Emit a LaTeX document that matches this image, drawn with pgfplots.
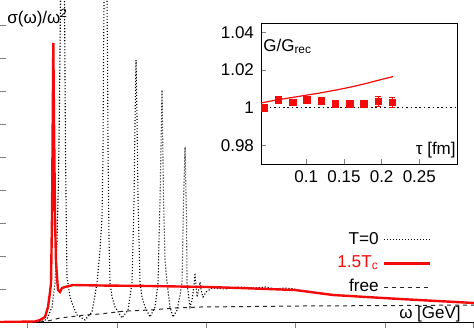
\documentclass[border=0pt]{standalone}
\usepackage{pgfplots}
\pgfplotsset{compat=1.18}
\usepackage{fontspec}
\setmainfont{Liberation Sans}
\definecolor{myred}{RGB}{245,10,10}
\begin{document}
\begin{tikzpicture}
\pgfplotsset{every axis/.append style={font=\fontsize{8.5}{10}\selectfont}}
\begin{axis}[
  scale only axis, width=237pt, height=161pt,
  xmin=0, xmax=474, ymin=0, ymax=322,
  axis x line*=bottom, axis y line*=left,
  y axis line style={draw=none},
  xtick={27,117,206,295,385,473},
  ytick={33,66,99,132,165,198,231,264,297},
  xticklabels={}, yticklabels={},
  xtick align=outside, ytick align=inside,
  major tick length=3pt,
  clip=true,
  legend plot pos=right,
  legend cell align=right,
  legend style={at={(axis cs:431,94)}, anchor=north east, draw=none, fill=none,
    inner sep=0pt, row sep=0.3pt, font=\fontsize{8.6}{9.8}\selectfont},
  legend image code/.code={\draw[#1] (0cm,0cm) -- (0.8cm,0cm);},
]
% T=0
\addplot[black, line width=0.55pt, dash pattern=on 0.55pt off 0.95pt] coordinates {
(30,0)(43,1)(47,3)(52,15)(55,39)(57,82)(58.5,142)(59.5,222)(60.5,322)(62.5,382)(64.5,322)
(65.5,172)(66.5,82)(67,45)(70,25)(72,19)(77,7)(85,2)(92,10)(97,39)(100,72)(102,105)
(103,172)(103.5,262)(104,322)(105.5,362)(107,322)(107.5,262)(108,172)(109,82)(110,39)
(112,25)(115,15)(122,4)(128,12)(132,39)(134,122)(135,202)(136,262)(137,202)(138,122)
(140,39)(142,25)(145,15)(150,5)(155,15)(158,39)(160,122)(162,232)(163.5,122)(165,62)
(167,39)(170,15)(173,5)(177,12)(180,27)(182,39)(183.5,122)(185,175)(186.5,102)(187,39)
(189,22)(190,15)(192,22)(194,37)(195,49)(196,37)(197,25)(198.5,32)(200,40)(201,32)
(203,25)(206,30)(212,34)(225,33)(240,35)(255,34)(265,35)(275,33)(285,34)(295,33)};
\addlegendentry{T=0}
% 1.5 Tc
\addplot[myred, line width=1.2pt] coordinates {
(0,0)(35,0.5)(40,2)(45,5)(48,15)(50,30)(51,39)(52,105)(52.7,200)(53.3,279)(54,200)
(55,105)(56,60)(57,45)(58,32)(60,30)(62,34)(65,35)(73,37)(100,36.5)(150,36)(207,35)
(240,34)(295,32)(333,27)(400,23)(474,19)};
\addlegendentry{\textcolor{myred}{1.5T\textsubscript{c}}}
% free
\addplot[black!85, line width=0.5pt, dash pattern=on 2pt off 2pt] coordinates {
(40,0)(50,1.5)(60,4)(85,7)(100,8)(125,11)(150,12)(175,14)(200,15)(230,15.3)(300,16)
(400,16.5)(474,17)};
\addlegendentry{free}
\node[anchor=west, inner sep=0pt] at (axis cs:7,304) {σ(ω)/ω\textsuperscript{2}};
\node[anchor=east, inner sep=0pt] at (axis cs:461,8) {ω [GeV]};
\end{axis}
\begin{axis}[
  at={(130.5pt,79pt)}, anchor=south west,
  scale only axis, width=98pt, height=70.5pt,
  xmin=0.04, xmax=0.30, ymin=0.97, ymax=1.045,
  xtick={0.1,0.15,0.2,0.25}, ytick={0.98,1,1.02,1.04},
  xtick pos=bottom, ytick pos=left, tick align=inside,
  major tick length=2.5pt,
  /pgf/number format/assume math mode=true,
  yticklabel style={/pgf/number format/fixed, /pgf/number format/precision=2},
  xticklabel style={/pgf/number format/fixed, /pgf/number format/precision=2},
  axis background/.style={fill=white},
  clip=true,
]
\addplot[black, line width=0.55pt, dash pattern=on 0.8pt off 1.4pt] coordinates {(0.04,1)(0.30,1)};
\addplot[myred, line width=0.6pt] coordinates {
(0.04,1.0025)(0.06,1.0040)(0.08,1.0053)(0.10,1.0066)(0.12,1.0079)(0.14,1.0094)
(0.16,1.0110)(0.18,1.0129)(0.20,1.0150)(0.215,1.0165)};
\addplot[myred, only marks, mark=square*, mark size=1.7pt,
  mark options={fill=myred, draw=myred},
  error bars/.cd, y dir=both, y explicit,
  error bar style={myred, line width=0.4pt},
  error mark options={rotate=90, mark size=1.5pt, myred}]
  table[x=t, y=g, y error=e] {
t g e
0.0444 0.9997 0.0008
0.0631 1.0039 0.0010
0.0823 1.0028 0.0010
0.1009 1.0039 0.0012
0.1200 1.0037 0.0012
0.1387 1.0020 0.0020
0.1577 1.0021 0.0020
0.1769 1.0020 0.0020
0.1956 1.0033 0.0025
0.2143 1.0028 0.0028
};
\node[anchor=west, inner sep=0pt] at (rel axis cs:0.01,0.835) {G/G\textsubscript{rec}};
\node[anchor=east, inner sep=0pt] at (rel axis cs:0.995,0.1) {τ [fm]};
\end{axis}
\pgfresetboundingbox
\path[use as bounding box] (0,-3pt) rectangle (237pt,161pt);
\end{tikzpicture}
\end{document}
